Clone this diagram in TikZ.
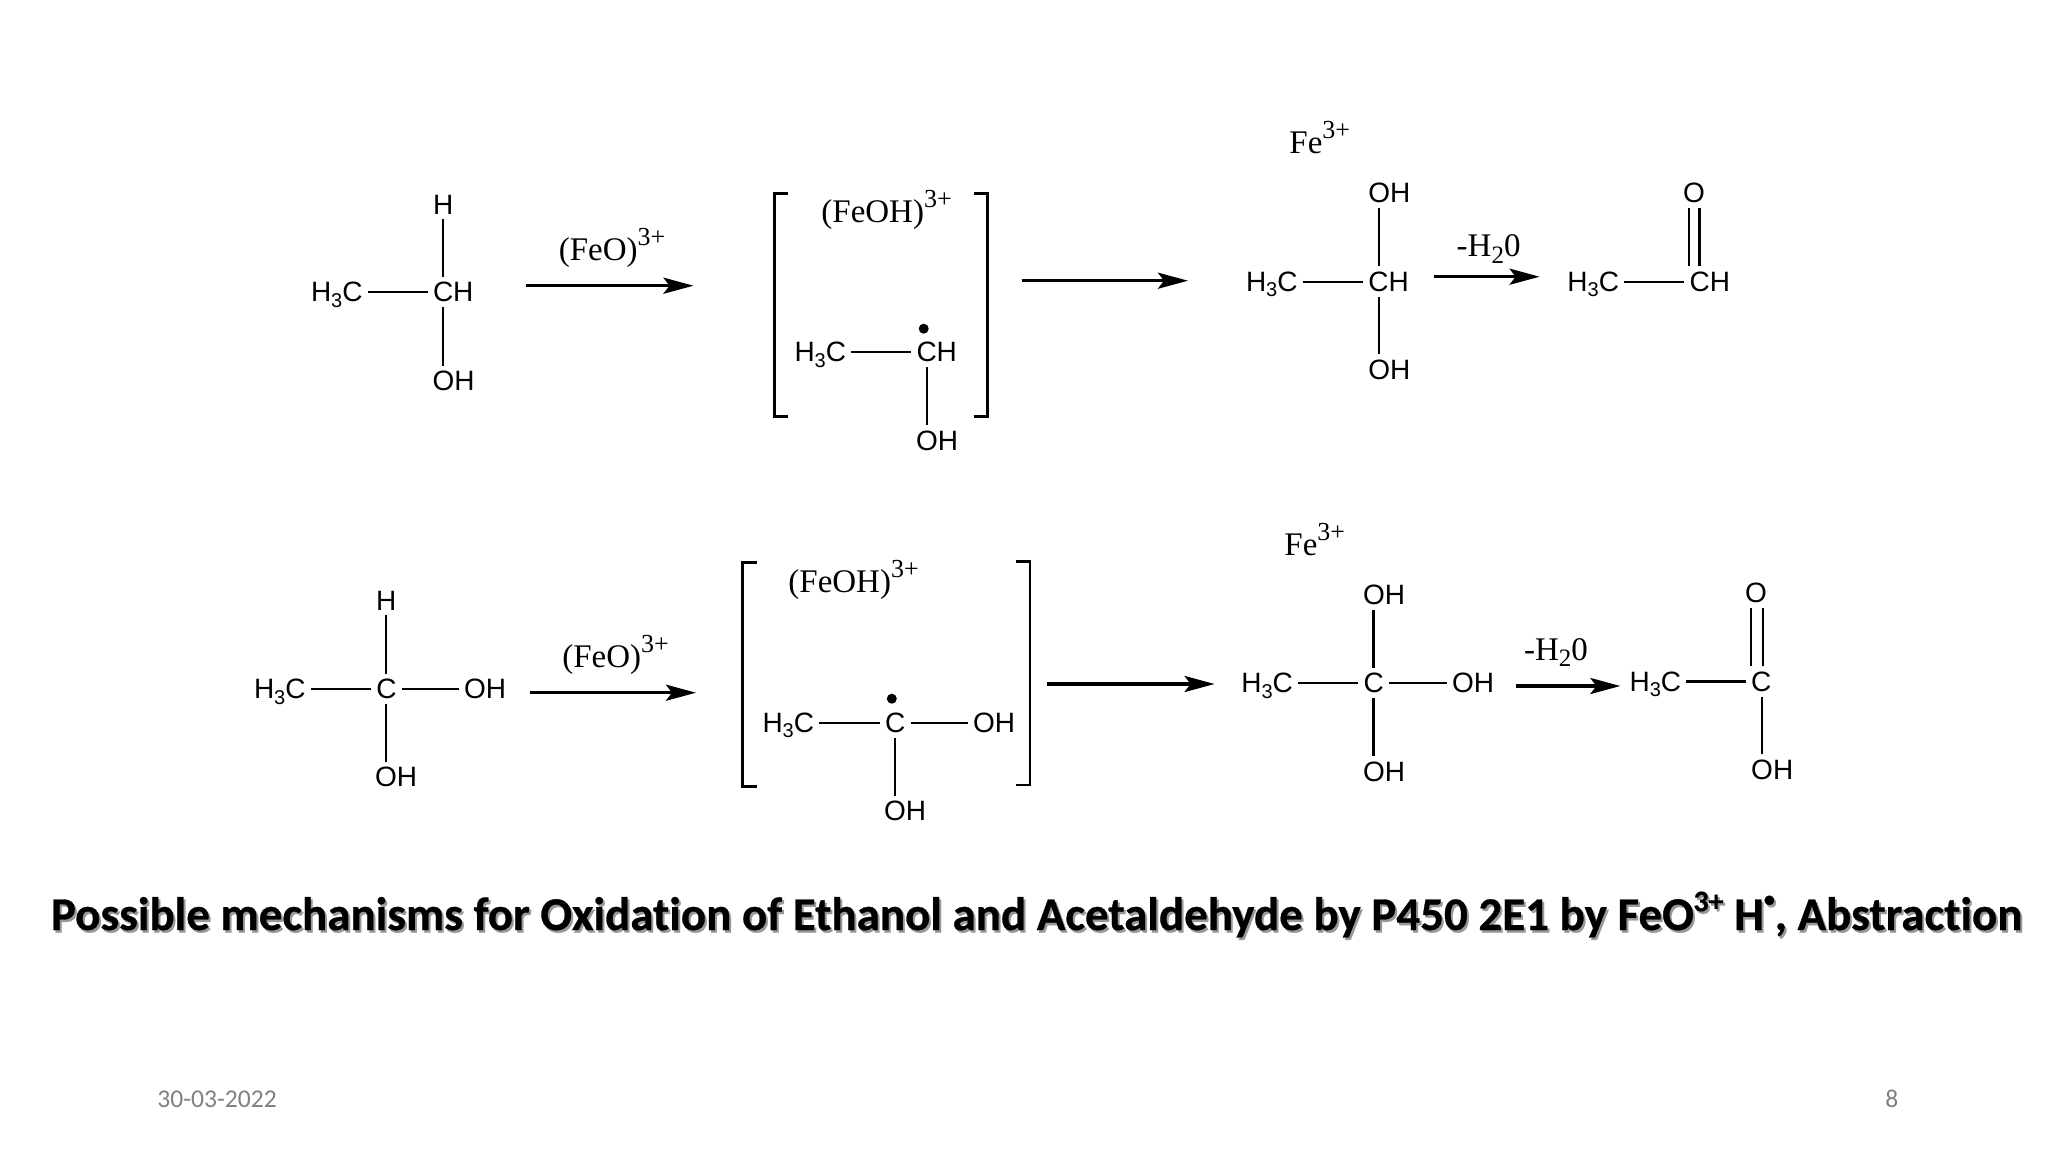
\documentclass[tikz,border=0pt]{standalone}
\usepackage{fontspec}
\usepackage{graphicx}
\usetikzlibrary{arrows.meta}
\newfontfamily\chemsans{Liberation Sans}
\newfontfamily\chemserif{Liberation Serif}
\newfontfamily\slidefont{Carlito}
\newfontfamily\slidebold[UprightFont=* Bold,FakeBold=0.6,Ligatures=NoCommon]{Carlito}
\newcommand{\supr}[1]{\raisebox{.45em}{\fontsize{13}{13}\selectfont #1}}
\newcommand{\subr}[1]{\raisebox{-.2em}{\fontsize{12.5}{12.5}\selectfont #1}}
\newcommand{\subs}[1]{\raisebox{-.2em}{\fontsize{10}{10}\selectfont #1}}
\newcommand{\titletext}{Possible mechanisms for Oxidation of Ethanol and Acetaldehyde by P450 2E1 by FeO\raisebox{.4em}{\fontsize{15}{15}\selectfont 3+} H\raisebox{.5em}{\fontsize{11}{11}\selectfont\textbullet}, Abstraction}
\tikzset{
  chem/.style={font=\chemsans\fontsize{14}{16}\selectfont,inner sep=0pt,outer sep=2.7pt,anchor=base west,xshift=-2.7pt},
  reagent/.style={font=\chemserif\fontsize{16.5}{18}\selectfont,inner sep=0pt,anchor=base west},
  bond/.style={line width=1.15pt},
  bracket/.style={line width=1.4pt},
  rxn/.style={line width=1.7pt,-{Stealth[length=15pt,width=8pt,inset=3pt]}},
  radical/.style={circle,fill=black,inner sep=0pt,minimum size=5pt},
  slidetitle/.style={font=\slidebold\fontsize{23.5}{26}\selectfont,inner sep=0pt,anchor=base west},
  foot/.style={font=\slidefont\fontsize{12.8}{14}\selectfont,text=black!50,inner sep=0pt,anchor=base west}
}
\begin{document}
\begin{tikzpicture}[x=.5pt,y=-.5pt]
\useasboundingbox (0,0) rectangle (2048,1152);
% --- Row 1: molecule 1
\coordinate (k1) at (443,291);
\node[chem] (a1h) at (433,214) {H};
\node[chem] (a1m) at (311,301.7) {H\subs{3}C};
\node[chem] (a1c) at (433,301.7) {CH};
\node[chem] (a1o) at (432.7,390.7) {OH};
\draw[bond] (a1m.east |- a1c.west) -- (a1c.west);
\draw[bond] (k1 |- a1h.south) -- (k1 |- a1c.north);
\draw[bond] (k1 |- a1c.south) -- (k1 |- a1o.north);
\coordinate (r1s) at (526,285.7); \coordinate (r1e) at (693.5,285.7);
\draw[rxn] (r1s) -- (r1e);
\node[reagent] (r1t) at (558.5,260.7) {(FeO)\supr{3+}};
% molecule 2 in brackets
\coordinate (k2) at (927,350);
\coordinate (b2a) at (788,193.3); \coordinate (b2b) at (774.4,193.3); \coordinate (b2c) at (774.4,416.7); \coordinate (b2d) at (788,416.7);
\coordinate (b2e) at (974,193.3); \coordinate (b2f) at (987.7,193.3); \coordinate (b2g) at (987.7,416.7); \coordinate (b2h) at (974,416.7);
\draw[bracket] (b2a) -- (b2b) -- (b2c) -- (b2d);
\draw[bracket] (b2e) -- (b2f) -- (b2g) -- (b2h);
\node[reagent] (a2t) at (821,222.7) {(FeOH)\supr{3+}};
\node[radical] (a2d) at (923.7,328.7) {};
\node[chem] (a2m) at (794.5,361.7) {H\subs{3}C};
\node[chem] (a2c) at (916.5,361.7) {CH};
\node[chem] (a2o) at (916,450) {OH};
\draw[bond] (a2m.east |- a2c.west) -- (a2c.west);
\draw[bond] (k2 |- a2c.south) -- (k2 |- a2o.north);
\coordinate (r2s) at (1021.6,280.7); \coordinate (r2e) at (1188,280.7);
\draw[rxn] (r2s) -- (r2e);
% molecule 3
\coordinate (k3) at (1379.2,280);
\node[reagent] (a3t) at (1289,153.3) {Fe\supr{3+}};
\node[chem] (a3u) at (1368.3,202.7) {OH};
\node[chem] (a3m) at (1246,291.3) {H\subs{3}C};
\node[chem] (a3c) at (1368.3,291.3) {CH};
\node[chem] (a3o) at (1368.3,379.3) {OH};
\draw[bond] (a3m.east |- a3c.west) -- (a3c.west);
\draw[bond] (k3 |- a3u.south) -- (k3 |- a3c.north);
\draw[bond] (k3 |- a3c.south) -- (k3 |- a3o.north);
\coordinate (r3s) at (1433.5,276.7); \coordinate (r3e) at (1539.6,276.7);
\draw[rxn] (r3s) -- (r3e);
\node[reagent] (r3t) at (1456.3,256.7) {-H\subr{2}0};
% molecule 4
\coordinate (k4a) at (1689,240); \coordinate (k4b) at (1699.6,240);
\node[chem] (a4u) at (1683,202.7) {O};
\node[chem] (a4m) at (1567.4,291.3) {H\subs{3}C};
\node[chem] (a4c) at (1689.6,291.3) {CH};
\draw[bond] (a4m.east |- a4c.west) -- (a4c.west);
\draw[bond] (k4a |- a4u.south) -- (k4a |- a4c.north);
\draw[bond] (k4b |- a4u.south) -- (k4b |- a4c.north);
% --- Row 2: molecule 5
\coordinate (k5) at (386,700);
\node[chem] (a5h) at (376,610) {H};
\node[chem] (a5m) at (254,698.7) {H\subs{3}C};
\node[chem] (a5c) at (376.3,698.7) {C};
\node[chem] (a5r) at (464,698.7) {OH};
\node[chem] (a5o) at (375,786.7) {OH};
\draw[bond] (a5m.east |- a5c.west) -- (a5c.west);
\draw[bond] (a5c.east) -- (a5r.west |- a5c.east);
\draw[bond] (k5 |- a5h.south) -- (k5 |- a5c.north);
\draw[bond] (k5 |- a5c.south) -- (k5 |- a5o.north);
\coordinate (r4s) at (529.7,692.7); \coordinate (r4e) at (696,692.7);
\draw[rxn] (r4s) -- (r4e);
\node[reagent] (r4t) at (562,667.3) {(FeO)\supr{3+}};
% molecule 6 in brackets
\coordinate (k6) at (895,780);
\coordinate (b6a) at (756.8,562.7); \coordinate (b6b) at (742.2,562.7); \coordinate (b6c) at (742.2,786.7); \coordinate (b6d) at (756.8,786.7);
\coordinate (b6e) at (1016,561.7); \coordinate (b6f) at (1030,561.7); \coordinate (b6g) at (1030,785); \coordinate (b6h) at (1016,785);
\draw[bracket] (b6a) -- (b6b) -- (b6c) -- (b6d);
\draw[bracket] (b6e) -- (b6f) -- (b6g) -- (b6h);
\node[reagent] (a6t) at (788,592.7) {(FeOH)\supr{3+}};
\node[radical] (a6d) at (891.8,698.7) {};
\node[chem] (a6m) at (762.5,732.3) {H\subs{3}C};
\node[chem] (a6c) at (885,732.3) {C};
\node[chem] (a6r) at (973,732.3) {OH};
\node[chem] (a6o) at (884.2,820.7) {OH};
\draw[bond] (a6m.east |- a6c.west) -- (a6c.west);
\draw[bond] (a6c.east) -- (a6r.west |- a6c.east);
\draw[bond] (k6 |- a6c.south) -- (k6 |- a6o.north);
\coordinate (r5s) at (1047,684); \coordinate (r5e) at (1214.6,684);
\draw[rxn] (r5s) -- (r5e);
% molecule 7
\coordinate (k7) at (1373.5,690);
\node[reagent] (a7t) at (1284,555) {Fe\supr{3+}};
\node[chem] (a7u) at (1363,604.7) {OH};
\node[chem] (a7m) at (1241.3,692.7) {H\subs{3}C};
\node[chem] (a7c) at (1363.5,692.7) {C};
\node[chem] (a7r) at (1452,692.7) {OH};
\node[chem] (a7o) at (1363,781) {OH};
\draw[bond] (a7m.east |- a7c.west) -- (a7c.west);
\draw[bond] (a7c.east) -- (a7r.west |- a7c.east);
\draw[bond] (k7 |- a7u.south) -- (k7 |- a7c.north);
\draw[bond] (k7 |- a7c.south) -- (k7 |- a7o.north);
\coordinate (r6s) at (1515.8,686); \coordinate (r6e) at (1620.4,686);
\draw[rxn] (r6s) -- (r6e);
\node[reagent] (r6t) at (1523.7,660) {-H\subr{2}0};
% molecule 8
\coordinate (k8a) at (1751,640); \coordinate (k8b) at (1762.7,640); \coordinate (k8c) at (1762,740);
\node[chem] (a8u) at (1745,602.7) {O};
\node[chem] (a8m) at (1629.5,691) {H\subs{3}C};
\node[chem] (a8c) at (1751,691) {C};
\node[chem] (a8o) at (1751.2,779.3) {OH};
\draw[bond] (a8m.east |- a8c.west) -- (a8c.west);
\draw[bond] (k8a |- a8u.south) -- (k8a |- a8c.north);
\draw[bond] (k8b |- a8u.south) -- (k8b |- a8c.north);
\draw[bond] (k8c |- a8c.south) -- (k8c |- a8o.north);
% --- caption and footer
\node[slidetitle,text=black!40] (capshadow) at (52.5,932.5) {\titletext};
\node[slidetitle] (cap) at (50.5,930) {\titletext};
\node[foot] (date) at (157,1107) {30-03-2022};
\node[foot] (page) at (1885,1107) {8};
\end{tikzpicture}
\end{document}
